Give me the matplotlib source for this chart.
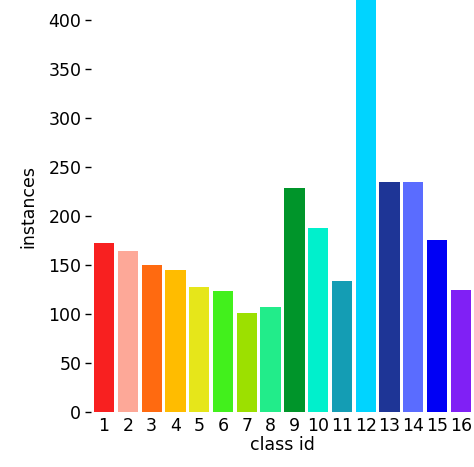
import matplotlib
matplotlib.use("Agg")
import matplotlib.pyplot as plt

classes = list(range(1, 17))
instances = [172, 164, 150, 145, 128, 124, 101, 107, 229, 188, 134, 480, 235, 235, 176, 125]
colors = ["#f82020", "#fda898", "#ff6a10", "#ffbc00", "#e6e61a", "#42f01c", "#9ce000",
          "#22ec8a", "#00952a", "#00f0cc", "#149db4", "#00d4ff", "#1e3596", "#5a6cff",
          "#0000f5", "#8020f5"]

fig = plt.figure(figsize=(4.74, 4.67), dpi=100)
ax = fig.add_axes([0.192, 0.117, 0.808, 0.883])
ax.bar(classes, instances, color=colors, width=0.85)
ax.set_ylim(0, 420)
ax.set_xlim(0.45, 16.55)
ax.set_xticks(classes)
ax.set_yticks(range(0, 401, 50))
for s in ax.spines.values():
    s.set_visible(False)
ax.tick_params(axis='both', labelsize=12.5, length=4, width=1, pad=3)
ax.tick_params(axis='x', length=0, pad=3)
ax.set_xlabel("class id", fontsize=12.5, labelpad=1)
ax.set_ylabel("instances", fontsize=12.5, labelpad=8)
fig.savefig("out.png", dpi=100)
